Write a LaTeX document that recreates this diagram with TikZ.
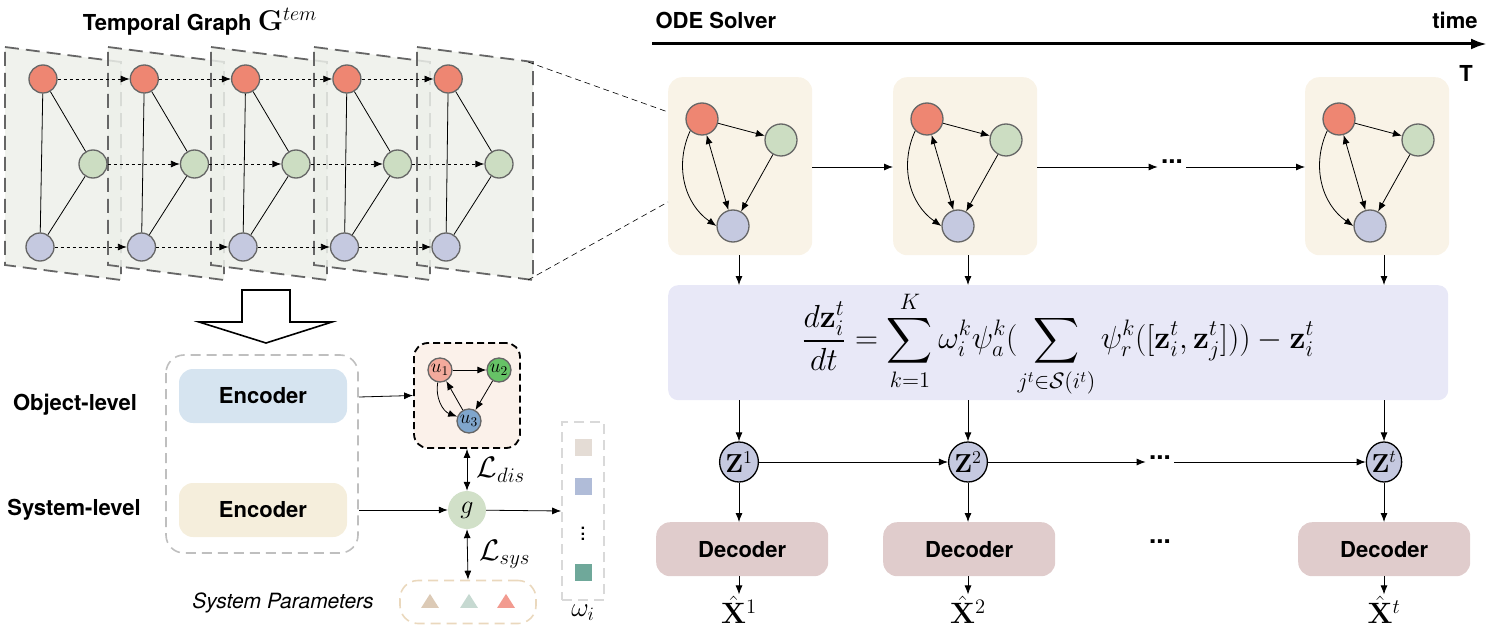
\RequirePackage{fix-cm}
\documentclass[tikz,border=0pt]{standalone}
\usepackage[no-math]{fontspec}
\setmainfont{TeX Gyre Heros}
\usepackage{amsmath,amssymb}
\usetikzlibrary{arrows.meta,shapes.geometric,calc}
\newcommand\mysc[2]{\scalebox{#1}{#2}}
\definecolor{cred}{HTML}{EE8672}
\definecolor{cgreen}{HTML}{CCDDC2}
\definecolor{cblue}{HTML}{C5C9E0}
\definecolor{plane}{HTML}{EDF0EA}
\definecolor{ybox}{HTML}{F9F3E7}
\definecolor{encb}{HTML}{D6E4F0}
\definecolor{ency}{HTML}{F5EEDC}
\definecolor{eqbox}{HTML}{E8E8F7}
\definecolor{dec}{HTML}{E0CCCC}
\definecolor{ubox}{HTML}{FBF1EA}
\definecolor{sq1}{HTML}{E4DCD5}
\definecolor{sq2}{HTML}{B0BCD8}
\definecolor{sq3}{HTML}{6FA89A}
\definecolor{tr1}{HTML}{DCCAB6}
\definecolor{tr2}{HTML}{C6D9D1}
\definecolor{tr3}{HTML}{F29B90}
\tikzset{
  gn/.style={circle,draw=black!60,line width=1.3pt,minimum size=#1,inner sep=0pt},
  gn/.default=28pt,
  arr/.style={-{Latex[length=9pt,width=7pt]},line width=0.8pt},
  darr/.style={{Latex[length=9pt,width=7pt]}-{Latex[length=9pt,width=7pt]},line width=0.8pt},
  zdash/.style={dash pattern=on 6pt off 4pt,line width=0.6pt},
  lbl/.style={font=\fontsize{22}{24}\selectfont\bfseries},
  dots/.style={font=\fontsize{26}{26}\selectfont\bfseries},
  box/.style={rounded corners=14pt,draw=none},
  zn/.style={ellipse,draw=black,line width=1.3pt,fill=cblue,minimum width=28pt,minimum height=40pt,inner sep=0pt,font=\fontsize{20}{22}\selectfont},
}
\begin{document}
\begin{tikzpicture}[x=1pt,y=-1pt]
\useasboundingbox (0,0) rectangle (1487,628);
\node[lbl] (title) at (200,22) {Temporal Graph \mysc{1.3}{$\mathbf{G}^{tem}$}};
\foreach \i in {0,...,4}{
  \pgfmathsetmacro{\xo}{5+103*\i}
  \fill[plane,opacity=0.85] (\xo,47)--(\xo+116,62)--(\xo+116,280)--(\xo,265)--cycle;
  \draw[black!60,line width=1.8pt,dash pattern=on 14pt off 7pt] (\xo,47)--(\xo+116,62)--(\xo+116,280)--(\xo,265)--cycle;
}
\foreach \i in {0,...,4}{
  \node[gn,fill=cred] (r\i) at (43+101.3*\i,79) {};
  \node[gn,fill=cgreen] (g\i) at (93+101.5*\i,164) {};
  \node[gn,fill=cblue] (b\i) at (40+101.5*\i,247) {};
  \draw[line width=0.8pt] (r\i)--(b\i) (r\i)--(g\i) (g\i)--(b\i);
}
\foreach \i/\j in {0/1,1/2,2/3,3/4}{
  \draw[arr,dashed] (r\i)--(r\j);
  \draw[arr,dashed] (g\i)--(g\j);
  \draw[arr,dashed] (b\i)--(b\j);
}
\coordinate (pz1) at (528,62); \coordinate (pz2) at (528,280);
\draw[line width=1.6pt,fill=white] (242,290)--(290,290)--(290,322)--(332,322)--(266,343)--(199,322)--(242,322)--cycle;
\draw[black!25,line width=1.6pt,dash pattern=on 10pt off 6pt,rounded corners=18pt] (166,355) rectangle (358,553);
\node[box,fill=encb,minimum width=168pt,minimum height=54pt,lbl] (eo) at (263,396) {Encoder};
\node[box,fill=ency,minimum width=168pt,minimum height=54pt,lbl] (es) at (263,510) {Encoder};
\node[lbl] (ol) at (75,405) {Object-level};
\node[lbl] (sl) at (74,510) {System-level};
\node[draw=black,line width=1.8pt,dash pattern=on 7pt off 4pt,rounded corners=14pt,fill=ubox,minimum width=106pt,minimum height=105pt] (ub) at (467,395.5) {};
\node[gn=24pt,fill=cred!70,font=\fontsize{16}{16}\selectfont] (u1) at (440,370) {\mysc{1.2}{$u_1$}};
\node[gn=24pt,fill=green!60!black!60,font=\fontsize{16}{16}\selectfont] (u2) at (499,370) {\mysc{1.2}{$u_2$}};
\node[gn=24pt,fill=blue!50!cyan!60!black!50,font=\fontsize{16}{16}\selectfont] (u3) at (469,421) {\mysc{1.2}{$u_3$}};
\draw[arr] (u1)--(u2);
\draw[arr] (u2)--(u3);
\draw[arr] (u3)--(u1);
\draw[arr] (u1) to[bend right=40] (u3);
\coordinate (eoe) at (359,397);
\draw[arr] (eoe)--(ub.west);
\node[ellipse,fill=cgreen!90!white,minimum width=38pt,minimum height=38pt,inner sep=0pt,font=\fontsize{20}{20}\selectfont] (gg) at (467,510) {\mysc{1.3}{$g$}};
\coordinate (ese) at (359,510);
\draw[arr] (ese)--(gg);
\draw[darr] (ub.south)--(gg.north) node[midway,right=6pt,font=\fontsize{22}{22}\selectfont] (ld) {\mysc{1.35}{$\mathcal{L}_{dis}$}};
\node[draw=ency!80!brown,line width=1.6pt,dash pattern=on 10pt off 6pt,rounded corners=18pt,minimum width=136pt,minimum height=43pt] (sp) at (468,602) {};
\draw[darr] (gg.south)--(sp.north) node[midway,right=8pt,font=\fontsize{22}{22}\selectfont] (ls) {\mysc{1.35}{$\mathcal{L}_{sys}$}};
\node[isosceles triangle,shape border rotate=90,isosceles triangle apex angle=65,fill=tr1,minimum height=14pt,inner sep=0pt] (t1) at (430,603) {};
\node[isosceles triangle,shape border rotate=90,isosceles triangle apex angle=65,fill=tr2,minimum height=14pt,inner sep=0pt] (t2) at (469,603) {};
\node[isosceles triangle,shape border rotate=90,isosceles triangle apex angle=65,fill=tr3,minimum height=14pt,inner sep=0pt] (t3) at (506,603) {};
\node[font=\fontsize{21}{22}\selectfont\itshape] (spt) at (283,603) {System Parameters};
\node[draw=black!15,line width=1.6pt,dash pattern=on 10pt off 6pt,minimum width=42pt,minimum height=178pt] (wb) at (583,511) {};
\draw[arr] (gg)--(wb.west);
\node[fill=sq1,minimum size=17pt,inner sep=0pt] (s1) at (583,447) {};
\node[fill=sq2,minimum size=17pt,inner sep=0pt] (s2) at (583,486) {};
\node[font=\fontsize{16}{16}\selectfont,inner sep=0pt] (sd) at (583,530) {\mysc{1.4}{$\vdots$}};
\node[fill=sq3,minimum size=17pt,inner sep=0pt] (s3) at (583,572) {};
\node[font=\fontsize{20}{20}\selectfont] (wl) at (583,613) {\mysc{1.35}{$\omega_i$}};
\node[lbl,anchor=west] (ode) at (652,20) {ODE Solver};
\node[lbl] (tm) at (1455,20) {time};
\node[lbl] (T) at (1466,73) {T};
\coordinate (ta) at (652,44); \coordinate (tb) at (1487,44);
\draw[-{Latex[length=16pt,width=11pt]},line width=3pt] (ta)--(tb);
\foreach \n/\x in {1/668,2/893,3/1305}{
  \node[box,fill=ybox,minimum width=144pt,minimum height=178pt,anchor=north west] (y\n) at (\x,77) {};
  \node[gn=32pt,fill=cred] (yr\n) at (\x+34,119) {};
  \node[gn=32pt,fill=cgreen] (yg\n) at (\x+113,140) {};
  \node[gn=32pt,fill=cblue] (yb\n) at (\x+65,226) {};
  \draw[arr] (yr\n)--(yg\n);
  \draw[arr] (yg\n)--(yb\n);
  \draw[darr] (yr\n)--(yb\n);
  \draw[arr] (yr\n.south west) to[bend right=40] (yb\n.west);
}
\draw[zdash] (pz1)--($(y1.north west)+(0,35)$);
\draw[zdash] (pz2)--($(y1.north west)+(0,125)$);
\draw[arr] (y1.east|-0,167)--(y2.west|-0,167);
\node[dots] (d1) at (1172,162) {...};
\draw[arr] (y2.east|-0,167)--(d1.west|-0,167);
\draw[arr] (d1.east|-0,167)--(y3.west|-0,167);
\node[box,fill=eqbox,minimum width=780pt,minimum height=115pt,anchor=north west,rounded corners=10pt] (eq) at (668,285) {};
\node[font=\fontsize{21}{24}\selectfont] (eqt) at (1058,344) {\mysc{1.52}{$\displaystyle \frac{d\mathbf{z}_i^t}{dt}=\sum_{k=1}^{K}\omega_i^k\psi_a^k(\sum_{j^t\in\mathcal{S}(i^t)}\psi_r^k([\mathbf{z}_i^t,\mathbf{z}_j^t]))-\mathbf{z}_i^t$}};
\foreach \n/\x/\s/\dx in {1/739/1/656,2/968/2/883,3/1384/t/1298}{
  \node[zn] (z\n) at (\x,462) {\mysc{1.3}{$\mathbf{Z}^{\s}$}};
  \draw[arr] (y\n.south-|z\n)--(eq.north-|z\n);
  \draw[arr] (eq.south-|z\n)--(z\n);
  \node[box,fill=dec,minimum width=172pt,minimum height=54pt,anchor=north west,lbl] (dc\n) at (\dx,522) {Decoder};
  \draw[arr] (z\n)--(dc\n.north-|z\n);
  \node[font=\fontsize{21}{22}\selectfont] (x\n) at (\x,610) {\mysc{1.4}{$\hat{\mathbf{X}}^{\s}$}};
  \draw[arr] (dc\n.south-|z\n)--($(dc\n.south-|z\n)+(0,18)$);
}
\draw[arr] (z1)--(z2);
\node[dots] (d2) at (1160,458) {...};
\draw[arr] (z2)--(d2.west|-z2);
\draw[arr] (d2.east|-z2)--(z3);
\node[dots] (d3) at (1160,542) {...};
\end{tikzpicture}
\end{document}
